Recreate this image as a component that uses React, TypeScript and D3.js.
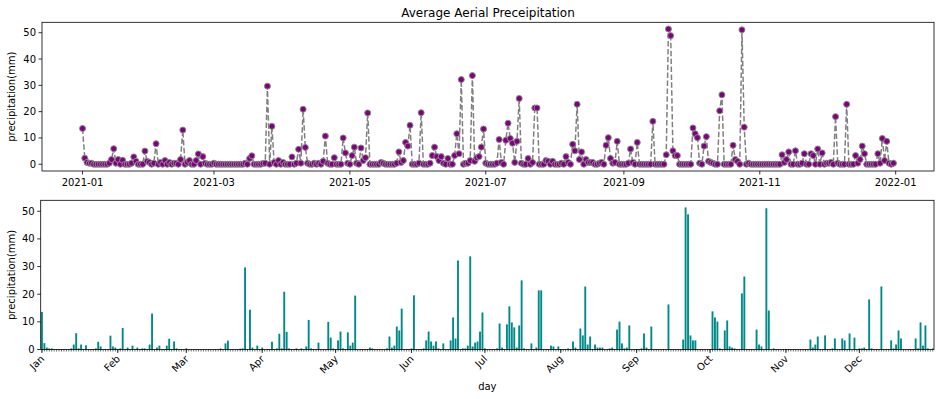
import React from "react";
import * as d3 from "d3";

const precip: number[] = [
  13.6, 2.3, 0.7, 0.4, 0.4, 0, 0, 0, 0, 0,
  0, 0, 0.4, 1.8, 5.9, 0.4, 1.8, 0, 1.5, 0,
  0, 0, 0.4, 2.8, 1.1, 0, 0, 0, 5.0, 1.1,
  0.7, 0, 0.4, 7.8, 0, 0.7, 0, 1.4, 0, 0.7,
  0, 0.4, 0.4, 0, 1.8, 13.0, 0, 0.7, 1.4, 0,
  0, 1.4, 3.9, 0, 2.9, 0.4, 0, 0, 0, 0.4,
  0, 0, 0, 0, 0, 0, 0, 0, 0, 0,
  0, 0, 0, 0.4, 0, 2.2, 3.2, 0, 0, 0,
  0, 0.3, 0.4, 29.7, 0, 14.4, 0.7, 0, 1.4, 0,
  0.7, 0, 0, 0, 2.8, 0, 0.4, 5.7, 0.4, 20.9,
  6.4, 0.4, 0, 0, 0.4, 0, 0.4, 0, 1.1, 10.7,
  0.4, 0, 0, 2.5, 0, 0, 0, 10.0, 4.3, 0.4,
  0, 3.3, 6.5, 0.4, 0, 6.2, 1.4, 2.5, 19.5, 0,
  0, 0, 0, 0, 0.7, 0.4, 0, 0, 0, 0,
  0, 0.4, 4.7, 0.7, 1.4, 8.3, 6.9, 14.8, 0, 0,
  0, 0.4, 19.6, 0, 0, 0, 0.4, 3.3, 6.5, 2.9,
  1.4, 2.9, 0.4, 0, 2.2, 0, 0, 3.3, 11.6, 4.0,
  32.2, 0, 0.4, 0.4, 1.4, 33.7, 1.1, 2.5, 2.9, 6.5,
  13.4, 0.4, 0, 0, 0, 0, 0.4, 9.4, 0.7, 0,
  9.1, 15.6, 9.8, 8.0, 0.7, 8.7, 25.0, 0.4, 0, 0,
  2.2, 0, 0.7, 21.4, 21.4, 0, 0, 0, 1.4, 1.1,
  0, 1.1, 0, 0, 0, 0.4, 0, 2.9, 0.7, 0,
  7.6, 5.1, 22.8, 1.8, 4.7, 0, 1.8, 0.7, 0.7, 0.7,
  0, 0, 0.4, 0.7, 0, 7.2, 10.1, 2.2, 0.4, 0.7,
  8.7, 0, 0, 0, 0, 0.4, 5.8, 0.7, 0, 8.3,
  0, 0, 0, 0, 0, 0, 16.3, 0, 0, 0,
  0, 0, 3.6, 51.4, 48.9, 5.1, 3.3, 3.3, 0, 0,
  0, 0, 0, 0, 13.8, 11.6, 10.1, 0.4, 0, 6.9,
  10.5, 1.1, 0.7, 0.4, 0, 0, 20.3, 26.4, 0, 0,
  0, 0, 7.2, 1.8, 1.1, 0, 51.1, 14.1, 0, 0.4,
  0, 0, 0, 0, 0, 0, 0, 0, 0, 0,
  0, 0, 0, 0, 3.6, 0.7, 1.8, 4.7, 0, 0,
  5.1, 0, 0, 0.4, 4.0, 0, 0, 4.0, 3.3, 0,
  5.8, 0, 4.3, 0, 0.4, 0.4, 0.7, 0, 18.1, 0.4,
  0, 0, 0, 22.8, 0, 0, 0, 3.3, 0.4, 1.8,
  6.9, 4.0, 0, 0, 0, 0, 0, 4.0, 0.4, 9.8,
  1.4, 8.7, 0.4, 0, 0.4,
];

const monthNames: string[] = ["Jan", "Feb", "Mar", "Apr", "May", "Jun", "Jul", "Aug", "Sep", "Oct", "Nov", "Dec"];
const yTicks: number[] = [0, 10, 20, 30, 40, 50];
const startDate = new Date(2021, 0, 1);

const W = 940;
const H = 399;
const FONT = "DejaVu Sans, sans-serif";

export default function App() {
  const dates = precip.map((_, i) => d3.timeDay.offset(startDate, i));
  const maxV = d3.max(precip) as number;
  const minV = d3.min(precip) as number;

  // Top panel
  const T = { l: 42, r: 934, t: 22.3, b: 171 };
  const first = dates[0].getTime();
  const last = dates[dates.length - 1].getTime();
  const pad = (last - first) * 0.05;
  const xT = d3.scaleTime().domain([new Date(first - pad), new Date(last + pad)]).range([T.l, T.r]);
  const ypad = (maxV - minV) * 0.05;
  const yT = d3.scaleLinear().domain([minV - ypad, maxV + ypad]).range([T.b, T.t]);
  const line = d3.line<number>().x((_, i) => xT(dates[i])).y((d) => yT(d));
  const topTicks = xT.ticks(d3.timeMonth.every(2) as any);
  const fmt = d3.timeFormat("%Y-%m");

  // Bottom panel
  const B = { l: 40.7, r: 934, t: 200.3, b: 349.5 };
  const xB = d3.scaleLinear().domain([-0.5, precip.length - 0.5]).range([B.l, B.r]);
  const yB = d3.scaleLinear().domain([0, maxV * 1.05]).range([B.b, B.t]);
  const bw = 1.9;
  const monthStarts = monthNames.map((_, m) => d3.timeDay.count(startDate, new Date(2021, m, 1)));

  return (
    <svg width={W} height={H} style={{ position: "absolute", left: 0, top: 0, display: "block", background: "#fff" }} fontFamily={FONT}>
      {/* TOP */}
      <text x={(T.l + T.r) / 2} y={17} textAnchor="middle" fontSize={12} fill="#000">Average Aerial Preceipitation</text>
      <path d={line(precip) || ""} fill="none" stroke="#808080" strokeWidth={1.5} strokeDasharray="5.5,2.4" />
      {precip.map((v, i) => (
        <circle key={i} cx={xT(dates[i])} cy={yT(v)} r={3} fill="#800080" stroke="#8a8a8a" strokeWidth={1} />
      ))}
      <rect x={T.l} y={T.t} width={T.r - T.l} height={T.b - T.t} fill="none" stroke="#000" strokeWidth={0.8} />
      {yTicks.map((t) => (
        <g key={"yt" + t}>
          <line x1={T.l - 3.5} x2={T.l} y1={yT(t)} y2={yT(t)} stroke="#000" strokeWidth={0.8} />
          <text x={T.l - 6} y={yT(t)} dy="0.35em" textAnchor="end" fontSize={10}>{t}</text>
        </g>
      ))}
      {topTicks.map((d) => (
        <g key={"xt" + d.getTime()}>
          <line x1={xT(d)} x2={xT(d)} y1={T.b} y2={T.b + 3.5} stroke="#000" strokeWidth={0.8} />
          <text x={xT(d)} y={T.b + 15} textAnchor="middle" fontSize={10}>{fmt(d)}</text>
        </g>
      ))}
      <text transform={`translate(15,${(T.t + T.b) / 2}) rotate(-90)`} textAnchor="middle" fontSize={10}>precipitation(mm)</text>

      {/* BOTTOM */}
      {precip.map((v, i) => (
        <rect key={"b" + i} x={xB(i) - bw / 2} y={yB(v)} width={bw} height={Math.max(0, yB(0) - yB(v))} fill="#008b8b" />
      ))}
      <rect x={B.l} y={B.t} width={B.r - B.l} height={B.b - B.t} fill="none" stroke="#000" strokeWidth={0.8} />
      {precip.map((_, i) => (
        <line key={"mt" + i} x1={xB(i)} x2={xB(i)} y1={B.b} y2={B.b + 2} stroke="#000" strokeWidth={0.6} />
      ))}
      {monthStarts.map((idx, m) => (
        <g key={"mm" + m}>
          <line x1={xB(idx)} x2={xB(idx)} y1={B.b} y2={B.b + 3.5} stroke="#000" strokeWidth={0.8} />
          <text transform={`translate(${xB(idx) + 3},${B.b + 10}) rotate(-45)`} textAnchor="end" fontSize={10}>{monthNames[m]}</text>
        </g>
      ))}
      {yTicks.map((t) => (
        <g key={"ybt" + t}>
          <line x1={B.l - 3.5} x2={B.l} y1={yB(t)} y2={yB(t)} stroke="#000" strokeWidth={0.8} />
          <text x={B.l - 6} y={yB(t)} dy="0.35em" textAnchor="end" fontSize={10}>{t}</text>
        </g>
      ))}
      <text x={(B.l + B.r) / 2} y={390} textAnchor="middle" fontSize={10}>day</text>
      <text transform={`translate(15,${(B.t + B.b) / 2}) rotate(-90)`} textAnchor="middle" fontSize={10}>precipitation(mm)</text>
    </svg>
  );
}
